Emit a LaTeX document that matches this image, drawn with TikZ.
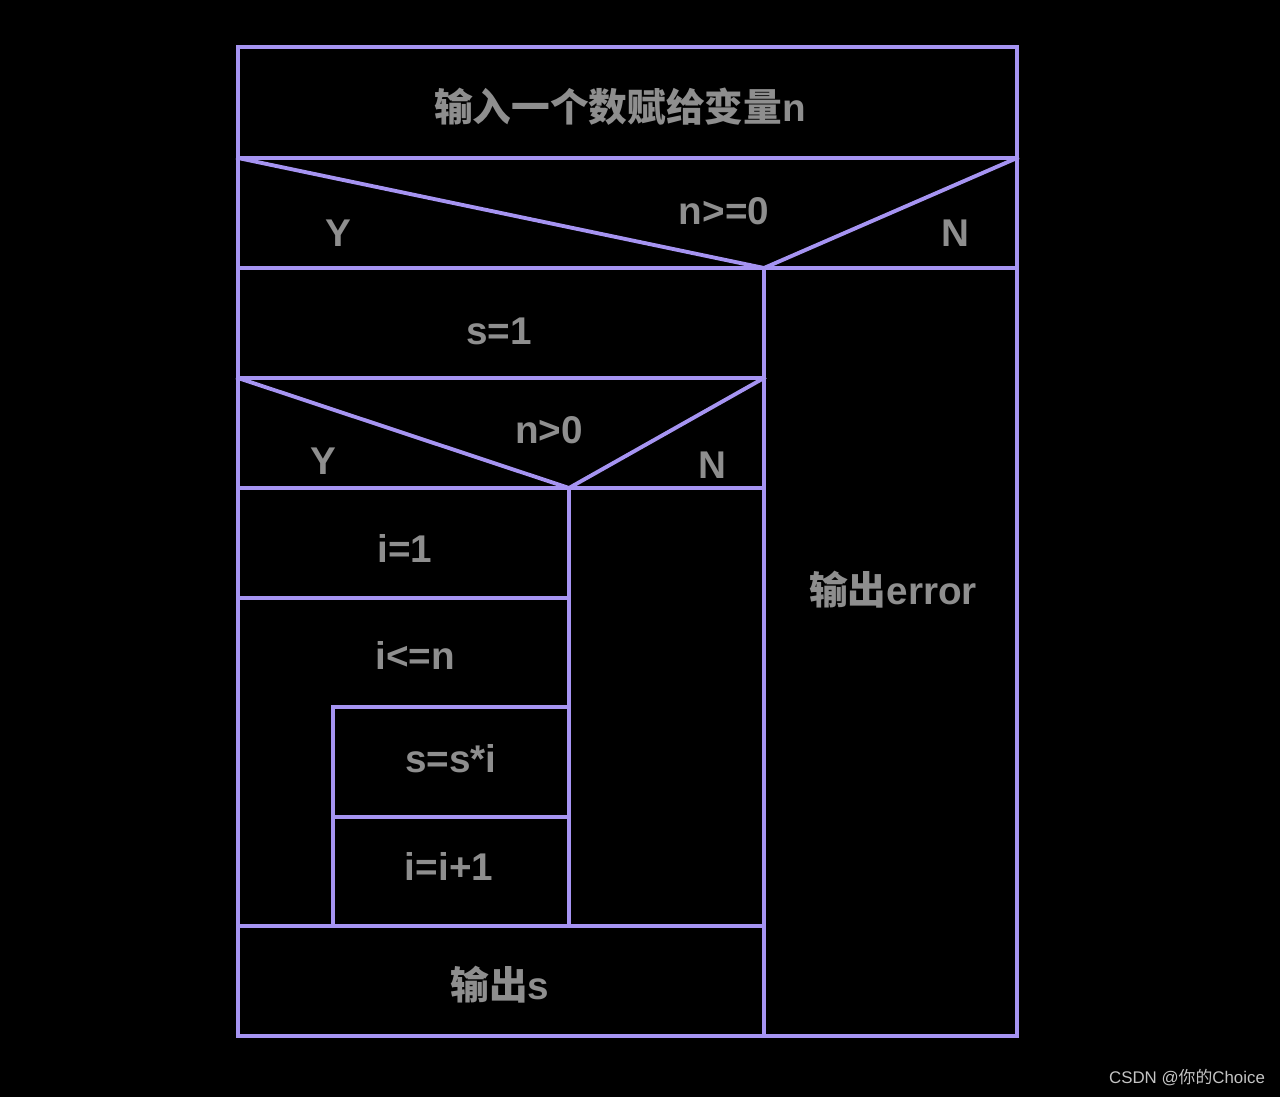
\documentclass[tikz,border=0pt]{standalone}
\usepackage{fontspec}
\setmainfont{Liberation Sans}
\newfontfamily\cjk{Noto Sans CJK SC}
\definecolor{lavender}{RGB}{166,148,242}
\definecolor{labelgray}{RGB}{142,142,142}
\definecolor{markgray}{RGB}{196,196,196}
\tikzset{
    %Define style for the frame lines
    frame/.style={
           draw=lavender,
           line width=2.2pt,
           line cap=rect},
    %Define style for the texts in the blocks
    txt/.style={
           text=labelgray,
           inner sep=0pt,
           font=\fontsize{22}{26}\selectfont\bfseries},
    % Define style for the watermark
    mark text/.style={
           text=markgray,
           inner sep=0pt,
           font=\fontsize{9.6}{12}\selectfont}
}

\begin{document}
\begin{tikzpicture}[x=0.02cm, y=-0.02cm]
 %background
    \fill[black] (0,0) rectangle (1280,1097);
 %corners
    \coordinate (tl) at (238,47);
    \coordinate (br) at (1017,1036);
    \coordinate (d1l) at (238,158);
    \coordinate (d1r) at (1017,158);
    \coordinate (d1v) at (764,268);
    \coordinate (d2l) at (238,378);
    \coordinate (d2r) at (764,378);
    \coordinate (d2v) at (569,488);
    \coordinate (loop) at (333,707);
 %frame
    \draw[frame] (tl) rectangle (br);
    \draw[frame] (d1l) -- (d1r);
    \draw[frame] (d1l) -- (d1v) -- (d1r);
    \draw[frame] (238,268) -- (1017,268);
    \draw[frame] (d1v) -- (764,1036);
    \draw[frame] (d2l) -- (d2r);
    \draw[frame] (d2l) -- (d2v) -- (d2r);
    \draw[frame] (238,488) -- (764,488);
    \draw[frame] (d2v) -- (569,926);
    \draw[frame] (238,598) -- (569,598);
    \draw[frame] (loop) -- (569,707);
    \draw[frame] (loop) -- (333,926);
    \draw[frame] (333,817) -- (569,817);
    \draw[frame] (238,926) -- (764,926);
 %texts
    \node[txt] (input) at (620,107) {{\cjk\bfseries 输入一个数赋给变量}n};
    \node[txt] (cond1) at (724,211) {n>=0};
    \node[txt] (yes1) at (338,233) {Y};
    \node[txt] (no1) at (955,233) {N};
    \node[txt] (init) at (499,331) {s=1};
    \node[txt] (cond2) at (549,430) {n>0};
    \node[txt] (yes2) at (323,461) {Y};
    \node[txt] (no2) at (712,465) {N};
    \node[txt] (start) at (405,548) {i=1};
    \node[txt] (test) at (415,655) {i<=n};
    \node[txt] (mult) at (451,759) {s=s*i};
    \node[txt] (step) at (449,866) {i=i+1};
    \node[txt] (outs) at (500,985) {{\cjk\bfseries 输出}s};
    \node[txt] (outerr) at (893,590) {{\cjk\bfseries 输出}error};
    \node[mark text] (wm) at (1187,1078) {CSDN @{\cjk 你的}Choice};
\end{tikzpicture}
\end{document}
